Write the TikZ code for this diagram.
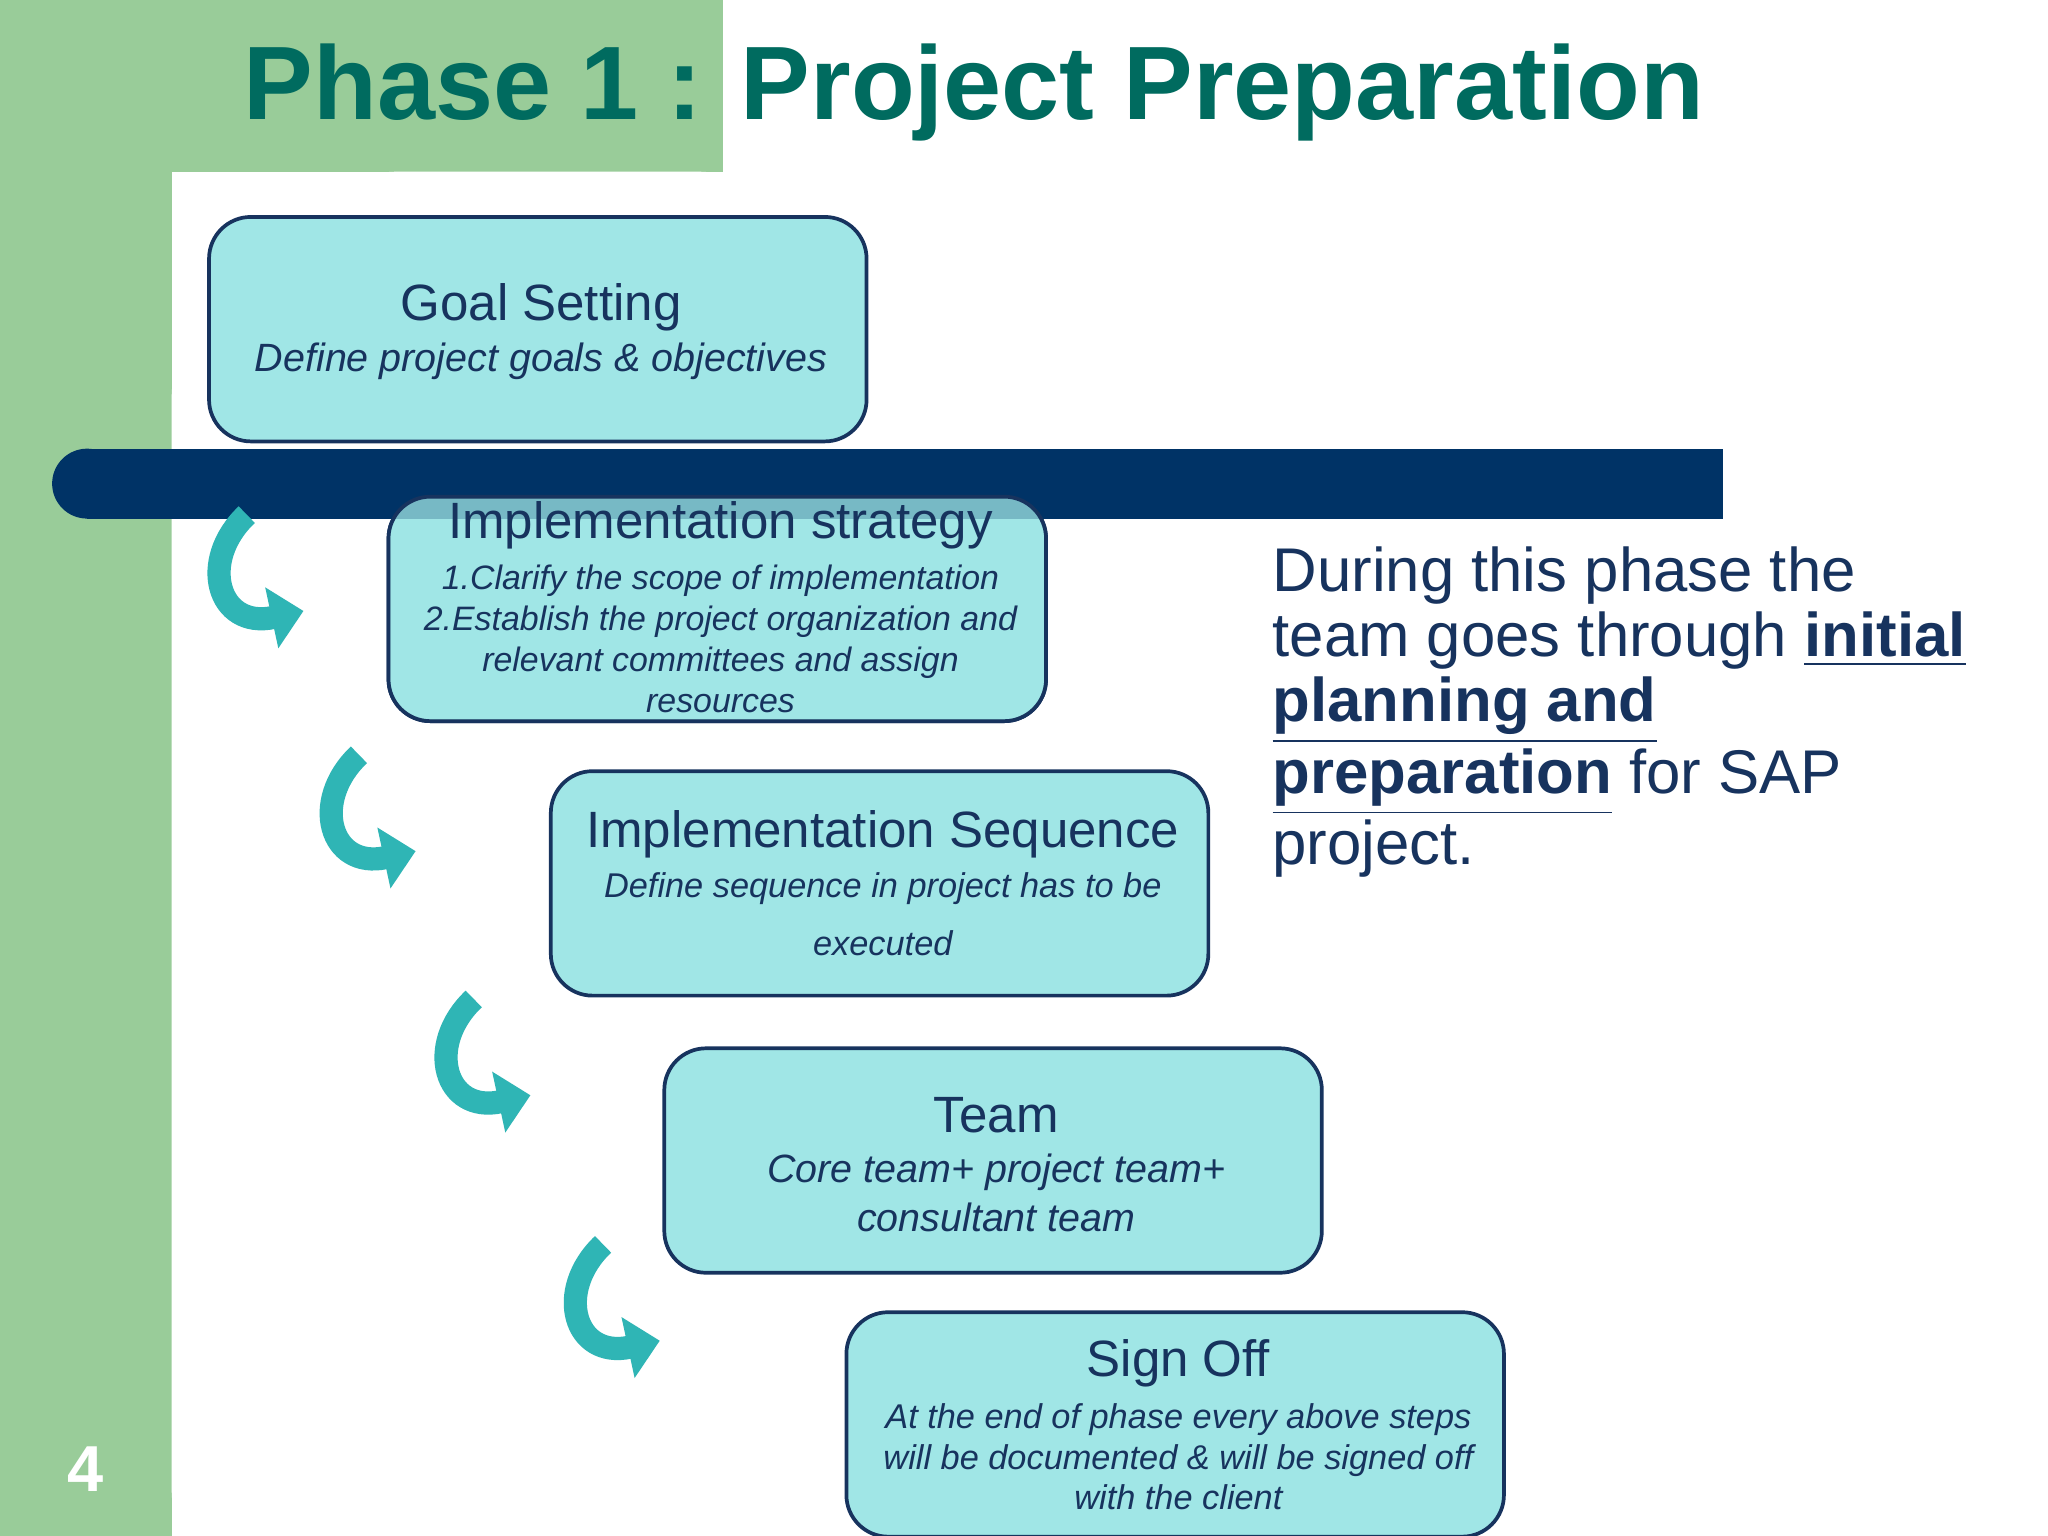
\documentclass[tikz,border=0pt]{standalone}
\usepackage{fontspec}
\setmainfont{Liberation Sans}
\usetikzlibrary{arrows.meta}
\definecolor{lgreen}{HTML}{99CC99}
\definecolor{teal1}{HTML}{006B5F}
\definecolor{boxfill}{HTML}{A0E6E6}
\definecolor{navy}{HTML}{17335E}
\definecolor{bar}{HTML}{003366}
\definecolor{arr}{HTML}{2FB5B5}
\tikzset{
 stepbox/.style={draw=navy, line width=0.8pt, fill=boxfill, rounded corners=9pt, minimum width=4.98cm, minimum height=1.70cm, anchor=north west},
 boxtitle/.style={text=navy, font=\fontsize{11}{12}\selectfont, align=center},
 boxsub/.style={text=navy, font=\fontsize{8.5}{10}\itshape\selectfont, align=center},
 curl/.style={draw=arr, line width=5pt, -{Triangle[length=7pt,width=13pt]}}
}
\begin{document}
\begin{tikzpicture}[x=0.01cm,y=-0.01cm]
\useasboundingbox (0,0) rectangle (1552,1164);
\fill[lgreen] (0,0) rectangle (548,130);
\fill[lgreen] (0,0) rectangle (130,1164);
\fill[white, rounded corners=50] (130,1300) -- (130,130) -- (700,130) -- (700,1300) -- cycle;
\fill[white] (548,0) rectangle (1552,1164);
\fill[white] (130,1164) rectangle (700,1300);
\node[text=teal1, font=\fontsize{22.5}{26}\bfseries\selectfont] (title) at (738,70) {Phase 1 : Project Preparation};
\node[text=white, font=\fontsize{14}{16}\bfseries\selectfont] (num) at (65,1113) {4};
% boxes
\node[stepbox] (b1) at (157,163) {};
\node[boxtitle] (t1) at (410,233) {Goal Setting};
\node[boxsub] (s1) at (410,274) {Define project goals \& objectives};
\node[stepbox] (b2) at (293,375) {};
\fill[bar] (66,340) rectangle (1306,393);
\fill[bar] (66,366.5) circle[radius=26.5];
\node[stepbox, fill opacity=0.75] (b2b) at (293,375) {};
\node[boxtitle] (t2) at (546,398) {Implementation strategy};
\node[boxsub, font=\fontsize{7.3}{8.8}\itshape\selectfont] (s2) at (546,484) {1.Clarify the scope of implementation\\2.Establish the project organization and\\relevant committees and assign\\resources};
\node[stepbox] (b3) at (416,583) {};
\node[boxtitle] (t3) at (669,632) {Implementation Sequence};
\node[boxsub, font=\fontsize{7.4}{12.5}\itshape\selectfont] (s3) at (669,693) {Define sequence in project has to be\\executed};
\node[stepbox] (b4) at (502,793) {};
\node[boxtitle] (t4) at (755,845) {Team};
\node[boxsub, font=\fontsize{8.5}{10.5}\itshape\selectfont] (s4) at (755,904) {Core team+ project team+\\consultant team};
\node[stepbox] (b5) at (640,993) {};
\node[boxtitle] (t5) at (893,1033) {Sign Off};
\node[boxsub, font=\fontsize{7.4}{8.8}\itshape\selectfont] (s5) at (893,1104) {At the end of phase every above steps\\will be documented \& will be signed off\\with the client};
% curls
\foreach \x/\y [count=\i] in {160/385, 245/567, 332/752, 430/938}{
  \coordinate (ca\i) at (\x+27,\y+5);
  \coordinate (cb\i) at (\x+70,\y+78);
  \draw[curl] (ca\i) .. controls (\x-10,\y+40) and (\x+5,\y+92) .. (cb\i);
}
% right text
\node[text=navy, anchor=north west, align=left, font=\fontsize{13.3}{14}\selectfont] (para) at (952,402)
 {During this phase the\\team goes through \textbf{\underline{initial}}\\\textbf{\underline{planning and}}\\\textbf{\underline{preparation}} for SAP\\project.};
\end{tikzpicture}
\end{document}
